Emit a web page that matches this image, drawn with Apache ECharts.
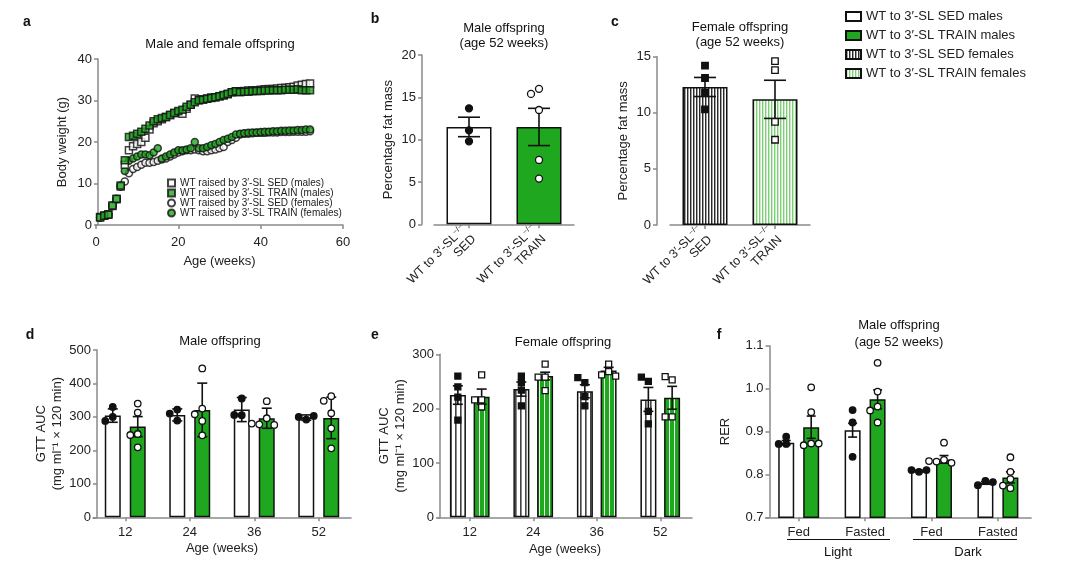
<!DOCTYPE html>
<html><head><meta charset="utf-8">
<script src="https://cdn.jsdelivr.net/npm/echarts@6/dist/echarts.min.js"></script>
<style>html,body{margin:0;padding:0;background:#fff}#c{width:1080px;height:570px}</style>
</head><body><div id="c"></div>
<script>
// ================= DATA =================
// Panel a: body weight by week
const weeks = [1,2,3,4,5,6,7,8,9,10,11,12,13,14,15,16,17,18,19,20,21,22,23,24,25,26,27,28,29,30,31,32,33,34,35,36,37,38,39,40,41,42,43,44,45,46,47,48,49,50,51,52];
const bwSedMales = [1.9,2.3,2.6,4.6,6.2,9.3,14.5,18.0,19.0,19.5, 20.0,21.0,23.0,24.5,25.0,25.5,26.0,26.5,27.0,27.2, 26.8,28.0,29.0,30.5,30.2,30.3,30.5,30.7,30.8,31.0, 31.2,31.5,32.0,32.2,32.2,32.3,32.4,32.5,32.5,32.6, 32.7,32.8,32.8,32.9,33.0,33.1,33.2,33.3,33.6,33.8, 34.0,34.1];
const bwTrainMales = [1.8,2.2,2.5,4.7,6.3,9.5,15.6,21.2,21.5,22.0, 22.5,23.2,24.0,25.0,25.5,25.8,26.0,26.5,27.0,27.5, 27.8,28.5,29.0,29.6,30.0,30.2,30.4,30.6,30.8,31.0, 31.3,31.6,32.0,32.2,32.0,32.1,32.1,32.2,32.3,32.3, 32.4,32.4,32.5,32.5,32.5,32.6,32.6,32.6,32.7,32.5, 32.5,32.5];
const bwSedFemales = [1.8,2.2,2.5,4.6,6.2,9.2,10.5,12.5,13.5,14.0, 14.5,15.0,15.0,15.2,15.5,15.8,16.0,16.5,17.0,17.5, 17.8,18.0,18.0,18.2,18.0,17.8,17.8,18.0,18.2,18.5, 18.8,20.0,20.5,21.0,21.8,22.0,22.0,22.1,22.2,22.2, 22.2,22.3,22.3,22.3,22.4,22.4,22.4,22.5,22.5,22.5, 22.5,22.6];
const bwTrainFemales = [1.8,2.2,2.5,4.7,6.3,9.5,13.0,15.5,16.0,16.5, 17.0,17.0,16.8,17.5,18.5,16.0,16.5,17.0,17.5,18.0, 18.0,18.2,18.5,20.0,18.5,18.5,18.8,19.2,19.5,20.0, 20.5,20.8,21.2,21.8,22.0,22.1,22.2,22.3,22.3,22.4, 22.5,22.5,22.6,22.6,22.7,22.7,22.8,22.8,22.9,22.9, 23.0,23.0];
const bwNames = ['WT raised by 3′-SL SED (males)','WT raised by 3′-SL TRAIN (males)','WT raised by 3′-SL SED (females)','WT raised by 3′-SL TRAIN (females)'];

// Panels b, c: percentage fat mass at 52 weeks
const fatCats = ['SED','TRAIN'];
const fatMaleMean = [11.5, 11.5];
const fatMaleErr = [1.15, 2.2];
const fatMalePts = [[13.7, 11.1, 9.8], [16.0, 15.4, 13.5, 7.6, 5.4]];
const fatFemaleMean = [12.3, 11.2];
const fatFemaleErr = [0.85, 1.7];
const fatFemalePts = [[14.2, 13.1, 11.8, 10.3], [14.6, 13.8, 9.2, 7.6]];

// Panels d, e: GTT AUC
const ageCats = ['12','24','36','52'];
const gttMaleSedMean = [304, 306, 322, 298];
const gttMaleSedErr = [20, 18, 36, 8];
const gttMaleSedPts = [[330,300,288],[322,310,289],[355,305,306],[292,300,303]];
const gttMaleTrainMean = [271, 321, 296, 297];
const gttMaleTrainErr = [30, 80, 30, 62];
const gttMaleTrainPts = [[340,313,249,246,209],[445,325,308,288,245],[347,296,278,276,280],[362,348,311,266,206]];
const gttFemSedMean = [225, 236, 232, 217];
const gttFemSedErr = [17, 13, 12, 22];
const gttFemSedPts = [[260,240,221,179],[248,260,234,205],[248,257,222,205],[250,258,195,172]];
const gttFemTrainMean = [222, 260, 270, 220];
const gttFemTrainErr = [14, 7, 6, 21];
const gttFemTrainPts = [[262,216,216,203],[282,258,258,233],[282,268,262,260],[253,259,185,185]];

// Panel f: RER
const rerCats = ['Fed','Fasted','Fed','Fasted'];
const rerGroups = ['Light','Dark'];
const rerSedMean = [0.874, 0.903, 0.808, 0.780];
const rerSedErr = [0.005, 0.016, 0.002, 0.003];
const rerSedPts = [[0.888,0.871,0.871],[0.950,0.921,0.841],[0.806,0.810,0.810],[0.785,0.775,0.782]];
const rerTrainMean = [0.910, 0.975, 0.835, 0.793];
const rerTrainErr = [0.026, 0.022, 0.009, 0.013];
const rerTrainPts = [[1.003,0.945,0.872,0.868,0.872],[1.060,0.993,0.958,0.949,0.921],[0.874,0.834,0.830,0.827,0.831],[0.840,0.806,0.789,0.768,0.774]];

const legendNames = ['WT to 3′-SL SED males','WT to 3′-SL TRAIN males','WT to 3′-SL SED females','WT to 3′-SL TRAIN females'];

// ================= STYLE =================
const FONT = 'Liberation Sans, Arial, Helvetica, sans-serif';
const GREEN = '#1fa81f';
const INK = '#111';
const AX = '#8a8a8a';
const FS = 13;
function stripes(cols){
  const c = document.createElement('canvas');
  c.width = cols.length; c.height = 4;
  const ctx = c.getContext('2d');
  cols.forEach((col,i)=>{ctx.fillStyle=col; ctx.fillRect(i,0,1,4);});
  return {image:c, repeat:'repeat'};
}
const patCSed = stripes(['#2a2a2a','#a0a0a0','#ffffff']);
const patCTrain = stripes(['#7fcc79','#c8ecc4','#ffffff']);
const patESed = stripes(['#444444','#8a8a8a','#ffffff','#ffffff','#ffffff']);
const patETrain = stripes([GREEN,GREEN,GREEN,GREEN,'#e6f7e6']);

const chart = echarts.init(document.getElementById('c'), null, {renderer:'canvas'});

function grid(left, top, width, height){ return {left, top, width, height, containLabel:false}; }
const grids = [
  grid(96, 59, 247, 166),      // a
  grid(434, 55, 140, 169.3),   // b
  grid(670, 56.7, 140, 168.3), // c
  grid(93, 350, 258, 167.3),   // d
  grid(438, 354.3, 254, 163),  // e
  grid(765.5, 345.7, 265.6, 171.6) // f
];

function yAx(gi, min, max, interval, name, gap, offset, fmt){
  return {type:'value', gridIndex:gi, min, max, interval, offset:offset||0,
    name, nameLocation:'middle', nameGap:gap, nameTextStyle:{fontSize:FS, color:'#222', fontFamily:FONT, lineHeight:16},
    axisLine:{show:true, lineStyle:{color:AX, width:1.5}},
    axisTick:{show:true, length:4, lineStyle:{color:AX, width:1.5}},
    axisLabel:{fontSize:FS, color:'#222', fontFamily:FONT, margin:6, formatter:fmt},
    splitLine:{show:false}};
}
function xCat(gi, data, extra){
  return Object.assign({type:'category', gridIndex:gi, data,
    axisLine:{show:true, lineStyle:{color:AX, width:1.5}},
    axisTick:{show:true, alignWithLabel:true, length:4, lineStyle:{color:AX, width:1.5}},
    axisLabel:{fontSize:FS, color:'#222', fontFamily:FONT, margin:9},
    nameTextStyle:{fontSize:FS, color:'#222', fontFamily:FONT}}, extra||{});
}
const rotLabel = {rotate:45, margin:8, fontSize:12.5, color:'#222', fontFamily:FONT,
  formatter:v=>'{n|WT to 3′-SL}{s|−/−}\n{n|'+v+'}',
  rich:{n:{fontSize:12.5, color:'#222', fontFamily:FONT, lineHeight:14}, s:{fontSize:8, color:'#222', fontFamily:FONT, padding:[0,0,6,0]}}};

const xAxes = [
  {type:'value', gridIndex:0, min:0, max:60, interval:20, offset:3,
    name:'Age (weeks)', nameLocation:'middle', nameGap:27, nameTextStyle:{fontSize:FS, color:'#222', fontFamily:FONT},
    axisLine:{lineStyle:{color:AX, width:1.5}}, axisTick:{length:4, lineStyle:{color:AX, width:1.5}},
    axisLabel:{fontSize:FS, color:'#222', fontFamily:FONT, margin:8}, splitLine:{show:false}},
  xCat(1, fatCats, {axisLabel:rotLabel}),
  xCat(2, fatCats, {axisLabel:rotLabel}),
  xCat(3, ageCats, {name:'Age (weeks)', nameLocation:'middle', nameGap:25}),
  xCat(4, ageCats, {name:'Age (weeks)', nameLocation:'middle', nameGap:26}),
  xCat(5, rerCats, {})
];
const yAxes = [
  yAx(0, 0, 40, 10, 'Body weight (g)', 28, -2),
  yAx(1, 0, 20, 5, 'Percentage fat mass', 26, 12),
  yAx(2, 0, 15, 5, 'Percentage fat mass', 26, 13),
  yAx(3, 0, 500, 100, 'GTT AUC\n(mg ml⁻¹ × 120 min)', 31, -4),
  yAx(4, 0, 300, 100, 'GTT AUC\n(mg ml⁻¹ × 120 min)', 31, -2),
  yAx(5, 0.7, 1.1, 0.1, 'RER', 36, -4, v=>v.toFixed(1))
];

// overlay: error bar + individual points, positioned via the axes
function overlay(gi, means, errs, pts, offset, capHalf, shape, fill, size){
  return {type:'custom', xAxisIndex:gi, yAxisIndex:gi, silent:true, z:5, clip:false,
    data: means.map((m,i)=>[i,m]),
    renderItem(params, api){
      const i = params.dataIndex;
      const x = api.coord([i, means[i]])[0] + offset;
      const yt = api.coord([i, means[i]+errs[i]])[1];
      const yb = api.coord([i, means[i]-errs[i]])[1];
      const st = {stroke:INK, lineWidth:1.6};
      const ch = [];
      if (pts[i].length) {
        ch.push({type:'line', shape:{x1:x,y1:yt,x2:x,y2:yb}, style:st},
          {type:'line', shape:{x1:x-capHalf,y1:yt,x2:x+capHalf,y2:yt}, style:st},
          {type:'line', shape:{x1:x-capHalf,y1:yb,x2:x+capHalf,y2:yb}, style:st});
      }
      const placed = [];
      const step = size + 1;
      pts[i].forEach(v=>{
        const y = api.coord([i, v])[1];
        const cands = [0,-1,1,-2,2,-3,3];
        let dx = 0;
        for (const k of cands){
          const px = x + k*step;
          if (!placed.some(p=>Math.hypot(p[0]-px, p[1]-y) < size+0.5)) { dx = k*step; break; }
        }
        placed.push([x+dx, y]);
        const s = {fill, stroke:INK, lineWidth:1.3};
        if (shape==='circle') ch.push({type:'circle', shape:{cx:x+dx, cy:y, r:size/2}, style:s});
        else ch.push({type:'rect', shape:{x:x+dx-size/2, y:y-size/2, width:size, height:size}, style:s});
      });
      return {type:'group', children:ch};
    }};
}
const only = (arr, k) => arr.map((p,i)=>i===k?p:[]);

const barBorder = {borderColor:INK, borderWidth:1.5};
const series = [
  // b
  {type:'bar', name:legendNames[0], xAxisIndex:1, yAxisIndex:1, barWidth:45, barGap:'-100%',
    data:fatMaleMean.map((v,i)=>i===0?v:'-'), itemStyle:Object.assign({color:'#fff'}, barBorder)},
  {type:'bar', name:legendNames[1], xAxisIndex:1, yAxisIndex:1, barWidth:45, barGap:'-100%',
    data:fatMaleMean.map((v,i)=>i===1?v:'-'), itemStyle:Object.assign({color:GREEN}, barBorder)},
  // c
  {type:'bar', name:legendNames[2], xAxisIndex:2, yAxisIndex:2, barWidth:45, barGap:'-100%',
    data:fatFemaleMean.map((v,i)=>i===0?v:'-'), itemStyle:Object.assign({color:patCSed}, barBorder)},
  {type:'bar', name:legendNames[3], xAxisIndex:2, yAxisIndex:2, barWidth:45, barGap:'-100%',
    data:fatFemaleMean.map((v,i)=>i===1?v:'-'), itemStyle:Object.assign({color:patCTrain}, barBorder)},
  // d
  {type:'bar', name:legendNames[0], xAxisIndex:3, yAxisIndex:3, barWidth:16, barGap:'56%', data:gttMaleSedMean, itemStyle:Object.assign({color:'#fff'}, barBorder)},
  {type:'bar', name:legendNames[1], xAxisIndex:3, yAxisIndex:3, barWidth:16, barGap:'56%', data:gttMaleTrainMean, itemStyle:Object.assign({color:GREEN}, barBorder)},
  // e
  {type:'bar', name:legendNames[2], xAxisIndex:4, yAxisIndex:4, barWidth:16, barGap:'48%', data:gttFemSedMean, itemStyle:Object.assign({color:patESed}, barBorder)},
  {type:'bar', name:legendNames[3], xAxisIndex:4, yAxisIndex:4, barWidth:16, barGap:'48%', data:gttFemTrainMean, itemStyle:Object.assign({color:patETrain}, barBorder)},
  // f
  {type:'bar', name:legendNames[0], xAxisIndex:5, yAxisIndex:5, barWidth:16, barGap:'56%', data:rerSedMean, itemStyle:Object.assign({color:'#fff'}, barBorder)},
  {type:'bar', name:legendNames[1], xAxisIndex:5, yAxisIndex:5, barWidth:16, barGap:'56%', data:rerTrainMean, itemStyle:Object.assign({color:GREEN}, barBorder)},
  // overlays
  overlay(1, fatMaleMean, fatMaleErr, only(fatMalePts,0), 0, 11, 'circle', INK, 7),
  overlay(1, fatMaleMean, fatMaleErr, only(fatMalePts,1), 0, 11, 'circle', '#fff', 7),
  overlay(2, fatFemaleMean, fatFemaleErr, only(fatFemalePts,0), 0, 11, 'rect', INK, 6.5),
  overlay(2, fatFemaleMean, fatFemaleErr, only(fatFemalePts,1), 0, 11, 'rect', '#fff', 6.5),
  overlay(3, gttMaleSedMean, gttMaleSedErr, gttMaleSedPts, -12.5, 5, 'circle', INK, 6.5),
  overlay(3, gttMaleTrainMean, gttMaleTrainErr, gttMaleTrainPts, 12.5, 5, 'circle', '#fff', 6.5),
  overlay(4, gttFemSedMean, gttFemSedErr, gttFemSedPts, -11.9, 5, 'rect', INK, 6),
  overlay(4, gttFemTrainMean, gttFemTrainErr, gttFemTrainPts, 11.9, 5, 'rect', '#fff', 6),
  overlay(5, rerSedMean, rerSedErr, rerSedPts, -12.5, 4.5, 'circle', INK, 6.5),
  overlay(5, rerTrainMean, rerTrainErr, rerTrainPts, 12.5, 4.5, 'circle', '#fff', 6.5),
  // a scatter
  {type:'scatter', name:bwNames[2], xAxisIndex:0, yAxisIndex:0, symbol:'circle', symbolSize:7, z:2,
    data:weeks.map((w,i)=>[w,bwSedFemales[i]]), itemStyle:{color:'#fff', borderColor:INK, borderWidth:1.5}},
  {type:'scatter', name:bwNames[3], xAxisIndex:0, yAxisIndex:0, symbol:'circle', symbolSize:7, z:3,
    data:weeks.map((w,i)=>[w,bwTrainFemales[i]]), itemStyle:{color:GREEN, borderColor:INK, borderWidth:1.5}},
  {type:'scatter', name:bwNames[0], xAxisIndex:0, yAxisIndex:0, symbol:'rect', symbolSize:7, z:4,
    data:weeks.map((w,i)=>[w,bwSedMales[i]]), itemStyle:{color:'#fff', borderColor:INK, borderWidth:1.5}},
  {type:'scatter', name:bwNames[1], xAxisIndex:0, yAxisIndex:0, symbol:'rect', symbolSize:7, z:5,
    data:weeks.map((w,i)=>[w,bwTrainMales[i]]), itemStyle:{color:GREEN, borderColor:INK, borderWidth:1.5}}
];

function txt(x, y, text, size, weight){
  return {type:'text', x, y, silent:true, style:{text, fill:'#111', font:(weight||'normal')+' '+size+'px '+FONT, align:'center', verticalAlign:'middle', textAlign:'center', textVerticalAlign:'middle'}};
}
const graphics = [
  txt(27, 22, 'a', 14, 'bold'), txt(375, 19, 'b', 14, 'bold'), txt(615, 22, 'c', 14, 'bold'),
  txt(30, 335, 'd', 14, 'bold'), txt(375, 335, 'e', 14, 'bold'), txt(719, 335, 'f', 14, 'bold'),
  txt(220, 44, 'Male and female offspring', 13),
  txt(504, 28, 'Male offspring', 13), txt(504, 43, '(age 52 weeks)', 13),
  txt(740, 27, 'Female offspring', 13), txt(740, 42, '(age 52 weeks)', 13),
  txt(220, 341, 'Male offspring', 13),
  txt(563, 342, 'Female offspring', 13),
  txt(899, 325, 'Male offspring', 13), txt(899, 342, '(age 52 weeks)', 13),
  {type:'line', silent:true, shape:{x1:787,y1:539.5,x2:890,y2:539.5}, style:{stroke:INK, lineWidth:1.2}},
  {type:'line', silent:true, shape:{x1:913,y1:539.5,x2:1017,y2:539.5}, style:{stroke:INK, lineWidth:1.2}},
  txt(838, 552, rerGroups[0], 13), txt(968, 552, rerGroups[1], 13)
];

chart.setOption({
  animation:false,
  backgroundColor:'#fff',
  textStyle:{fontFamily:FONT},
  grid:grids, xAxis:xAxes, yAxis:yAxes,
  legend:[
    {data:legendNames, orient:'vertical', left:840, top:4, itemWidth:15, itemHeight:9, itemGap:4, icon:'rect',
     textStyle:{fontSize:13, color:'#222', fontFamily:FONT, lineHeight:15}, selectedMode:false},
    {data:bwNames, orient:'vertical', left:165, top:176, itemWidth:7, itemHeight:7, itemGap:0, padding:2,
     textStyle:{fontSize:10, color:'#222', fontFamily:FONT, lineHeight:9}, selectedMode:false}
  ],
  graphic:graphics,
  series
});
</script></body></html>
